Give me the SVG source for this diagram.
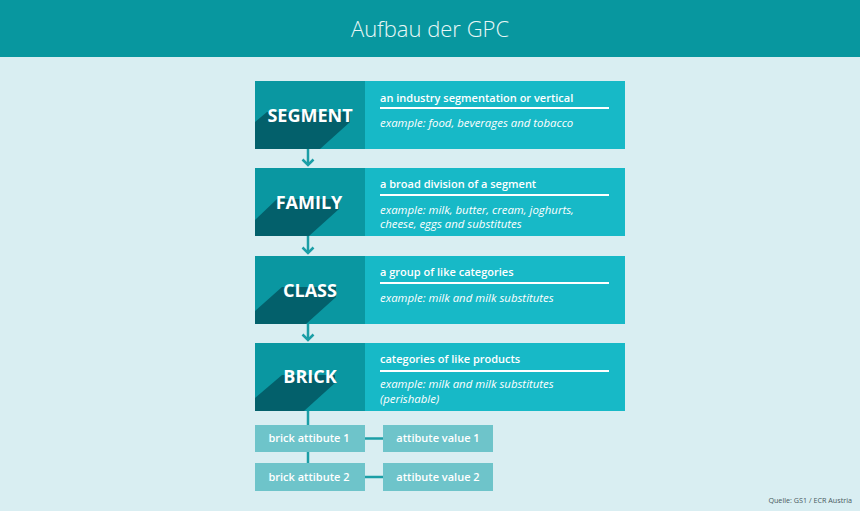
<svg xmlns="http://www.w3.org/2000/svg" width="860" height="511" viewBox="0 0 860 511">
<style>
.bg{fill:#d9eef2}
.hdr{fill:#08979f}
.left{fill:#0a97a1}
.right{fill:#17b9c7}
.shadow{fill:#03606b}
.big{font-family:"Open Sans","Liberation Sans",sans-serif;font-weight:700;font-size:18px;fill:#ffffff;text-anchor:middle}
.ttl{font-family:"Open Sans","Liberation Sans",sans-serif;font-weight:600;font-size:11px;fill:#ffffff}
.ex{font-family:"Open Sans","Liberation Sans",sans-serif;font-style:italic;font-size:11.4px;fill:#ffffff}
.rule{stroke:#ffffff;stroke-width:2}
.attr{fill:#6ec4ca}
.atxt{font-family:"Open Sans","Liberation Sans",sans-serif;font-weight:600;font-size:11px;fill:#ffffff;text-anchor:middle}
.conn{stroke:#1b9ea6;stroke-width:2.5;fill:none}
</style>
<rect class="bg" x="0" y="0" width="860" height="511"/>
<rect class="hdr" x="0" y="0" width="860" height="57"/>
<text x="430" y="37" font-family="'Open Sans','Liberation Sans',sans-serif" font-weight="300" font-size="22" fill="#e8f7f7" text-anchor="middle">Aufbau der GPC</text>

<g id="connectors">
  <line class="conn" x1="308" y1="149" x2="308" y2="165"/>
  <polyline class="conn" points="302.5,159.5 308,165 313.5,159.5"/>
  <line class="conn" x1="308" y1="236" x2="308" y2="253"/>
  <polyline class="conn" points="302.5,247.5 308,253 313.5,247.5"/>
  <line class="conn" x1="308" y1="324" x2="308" y2="340"/>
  <polyline class="conn" points="302.5,334.5 308,340 313.5,334.5"/>
  <line class="conn" x1="308" y1="411" x2="308" y2="463"/>
  <line class="conn" x1="365" y1="438.5" x2="383" y2="438.5"/>
  <line class="conn" x1="365" y1="477" x2="383" y2="477"/>
</g>

<g id="segment">
  <rect class="right" x="365" y="81" width="260" height="68"/>
  <rect class="left" x="255" y="81" width="110" height="68"/>
  <polygon class="shadow" points="267,112 350,112 350,122 320,149 255,149 255,122"/>
  <text class="big" x="310" y="122">SEGMENT</text>
  <text class="ttl" x="380" y="102">an industry segmentation or vertical</text>
  <line class="rule" x1="380" y1="108" x2="609" y2="108"/>
  <text class="ex" x="380" y="127">example: food, beverages and tobacco</text>
</g>

<g id="family">
  <rect class="right" x="365" y="168" width="260" height="68"/>
  <rect class="left" x="255" y="168" width="110" height="68"/>
  <polygon class="shadow" points="277,199 339,199 339,209 309,236 255,236 255,220"/>
  <text class="big" x="309" y="209">FAMILY</text>
  <text class="ttl" x="380" y="188">a broad division of a segment</text>
  <line class="rule" x1="380" y1="195" x2="609" y2="195"/>
  <text class="ex" x="380" y="214">example: milk, butter, cream, joghurts,</text>
  <text class="ex" x="380" y="228">cheese, eggs and substitutes</text>
</g>

<g id="class">
  <rect class="right" x="365" y="256" width="260" height="68"/>
  <rect class="left" x="255" y="256" width="110" height="68"/>
  <polygon class="shadow" points="282,287 336,287 336,297 306,324 255,324 255,311"/>
  <text class="big" x="310" y="297">CLASS</text>
  <text class="ttl" x="380" y="276">a group of like categories</text>
  <line class="rule" x1="380" y1="283" x2="609" y2="283"/>
  <text class="ex" x="380" y="302">example: milk and milk substitutes</text>
</g>

<g id="brick">
  <rect class="right" x="365" y="343" width="260" height="68"/>
  <rect class="left" x="255" y="343" width="110" height="68"/>
  <polygon class="shadow" points="282,375 335,375 335,383 304,411 255,411 255,398"/>
  <text class="big" x="310" y="383">BRICK</text>
  <text class="ttl" x="380" y="363">categories of like products</text>
  <line class="rule" x1="380" y1="371" x2="609" y2="371"/>
  <text class="ex" x="380" y="388">example: milk and milk substitutes</text>
  <text class="ex" x="380" y="403">(perishable)</text>
</g>

<g id="brick-attribute-1">
  <rect class="attr" x="255" y="425" width="110" height="27"/>
  <text class="atxt" x="309" y="442">brick attibute 1</text>
</g>
<g id="attribute-value-1">
  <rect class="attr" x="383" y="425" width="110" height="27"/>
  <text class="atxt" x="438" y="442">attibute value 1</text>
</g>
<g id="brick-attribute-2">
  <rect class="attr" x="255" y="463" width="110" height="28"/>
  <text class="atxt" x="309" y="481">brick attibute 2</text>
</g>
<g id="attribute-value-2">
  <rect class="attr" x="383" y="463" width="110" height="28"/>
  <text class="atxt" x="438" y="481">attibute value 2</text>
</g>

<text x="852" y="503" font-family="'Open Sans','Liberation Sans',sans-serif" font-size="7.2" fill="#4a5a60" text-anchor="end">Quelle: GS1 / ECR Austria</text>
</svg>
